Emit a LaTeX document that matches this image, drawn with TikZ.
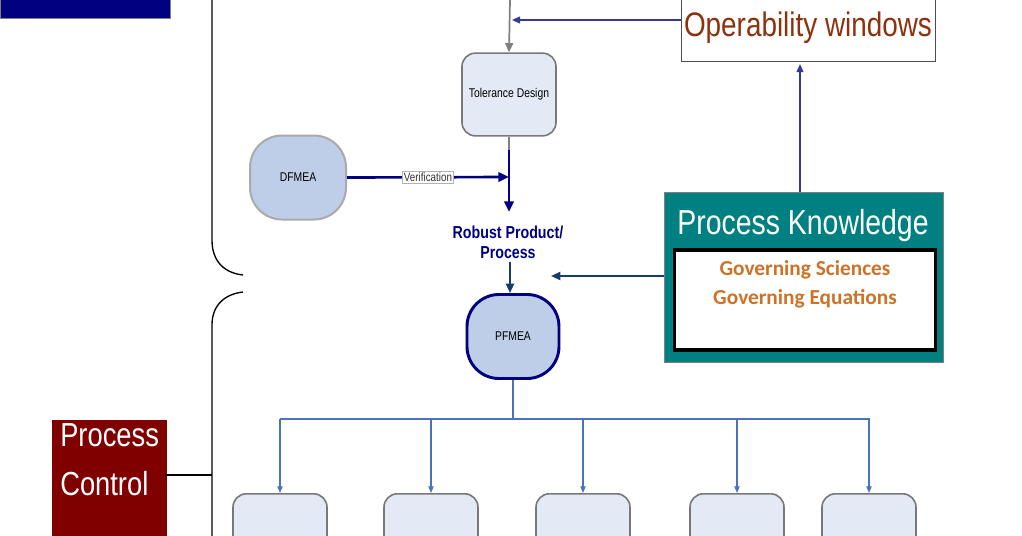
\documentclass[tikz,border=0pt]{standalone}
\usepackage{fontspec}
\setmainfont{Liberation Sans}
\newfontfamily\narrowfont[FakeStretch=0.82]{Liberation Sans}
\newfontfamily\calfont{Carlito}
\usetikzlibrary{arrows.meta}
\definecolor{navyblue}{RGB}{0,0,128}
\definecolor{linkblue}{RGB}{55,55,150}
\definecolor{treeblue}{RGB}{75,115,185}
\definecolor{boxfill}{RGB}{228,234,245}
\definecolor{ovalfill}{RGB}{190,206,232}
\definecolor{tealbox}{RGB}{0,128,128}
\definecolor{pcred}{RGB}{128,0,0}
\definecolor{brownish}{RGB}{140,50,15}
\definecolor{orangish}{RGB}{205,115,40}
\tikzset{
  stepbox/.style={draw={rgb,255:red,120;green,120;blue,120},line width=1.2pt,fill=boxfill,rounded corners=10pt,minimum width=70.5pt,minimum height=62pt,font=\narrowfont\fontsize{9.5}{11}\selectfont},
  fmeabox/.style={draw={rgb,255:red,170;green,170;blue,170},line width=1.5pt,fill=ovalfill,rounded corners=24pt,minimum width=72pt,minimum height=63pt,font=\narrowfont\fontsize{9.5}{11}\selectfont},
  link/.style={-{Triangle[length=6pt,width=5pt]},line width=1.2pt,color=linkblue},
  tree/.style={-{Triangle[length=5pt,width=4pt]},line width=0.8pt,color=treeblue}
}
\begin{document}
\begin{tikzpicture}[x=0.75pt,y=0.75pt,yscale=-1,xscale=1]
\useasboundingbox (0,0) rectangle (1022,536);

% left boxes
\node [fill=navyblue,draw=gray,minimum width=127.5pt,minimum height=24pt] (design) at (85,2) {};
\node [fill=pcred,text=white,minimum width=85pt,minimum height=105pt,align=left,font=\narrowfont\fontsize{25}{37}\selectfont,anchor=north west,inner sep=6pt,text depth=22pt,text height=30pt] (control) at (52,420) {Process\\Control};

% braces
\draw [line width=1pt] (212,0) -- (212,240) .. controls (212,262) and (225,273) .. (243,275);
\draw [line width=1pt] (243,292) .. controls (225,294) and (212,305) .. (212,325) -- (212,536);
\coordinate (brace) at (212,475);
\draw [line width=1pt] (165,475) -- (brace);

% design steps
\node [stepbox] (tolerance) at (509,94.5) {Tolerance Design};
\node [fmeabox] (dfmea) at (298,177.5) {DFMEA};
\node [fmeabox,draw=navyblue,line width=2.2pt,minimum width=69pt] (pfmea) at (513,336.5) {PFMEA};
\node [text=navyblue,font=\narrowfont\bfseries\fontsize{13}{15}\selectfont,align=center] (robust) at (508,242) {Robust Product/\\Process};

% right boxes
\node [draw=black!70,fill=white,minimum width=190.5pt,minimum height=50pt,inner xsep=2pt,text=brownish,font=\narrowfont\fontsize{25.5}{30}\selectfont] (window) at (808,28) {Operability windows};
\node [draw=black!50,fill=tealbox,minimum width=209pt,minimum height=127.5pt] (knowledge) at (803.5,277) {};
\node [text=white,font=\narrowfont\fontsize{26}{30}\selectfont] (pktitle) at (803,226) {Process Knowledge};
\node [draw=black,line width=2.5pt,fill=white,minimum width=196pt,minimum height=75pt,text=orangish,font=\calfont\bfseries\fontsize{16}{22}\selectfont,align=center,text depth=26pt] (sciences) at (805,300) {Governing Sciences\\Governing Equations};

% connectors
\coordinate (topin) at (510,0);
\draw [-{Triangle[length=7pt,width=6pt]},line width=1.3pt,color=gray] (topin) -- (tolerance.north);
\coordinate (windin) at (512,20);
\draw [link] (window.west |- windin) -- (windin);
\coordinate (join) at (509,177);
\draw [line width=2pt,color=navyblue,-{Triangle[length=8pt,width=7pt]}] (dfmea.east) -- node [fill=white,draw=gray!60,line width=0.4pt,inner sep=1pt,text=black!80,font=\narrowfont\fontsize{9}{10}\selectfont] {Verification} (join);
\draw [line width=1.2pt,color=gray] (tolerance.south) -- (509,150);
\draw [line width=2pt,color=navyblue,-{Triangle[length=8pt,width=7pt]}] (509,150) -- (509,212);
\coordinate (robout) at (510,262);
\draw [line width=1.5pt,color={rgb,255:red,20;green,60;blue,110},-{Triangle[length=7pt,width=6pt]}] (robout) -- (robout |- pfmea.north);
\coordinate (pkin) at (551,276);
\draw [line width=1.5pt,color={rgb,255:red,20;green,60;blue,110},-{Triangle[length=7pt,width=6pt]}] (knowledge.west |- pkin) -- (pkin);
\draw [link] (800,192) -- (800,64);

% process control tree
\coordinate (bus) at (513,419);
\draw [line width=1.2pt,color=treeblue] (pfmea.south) -- (bus);
\draw [line width=1.2pt,color=treeblue] (280,419) -- (870,419);
\foreach \n/\xx in {a/280,b/431,c/583,d/737,e/869}{
  \node [stepbox,anchor=north,minimum height=70pt] (ctrl\n) at (\xx,493) {};
  \draw [tree] (\xx,419) -- (ctrl\n.north);
}
\end{tikzpicture}
\end{document}
